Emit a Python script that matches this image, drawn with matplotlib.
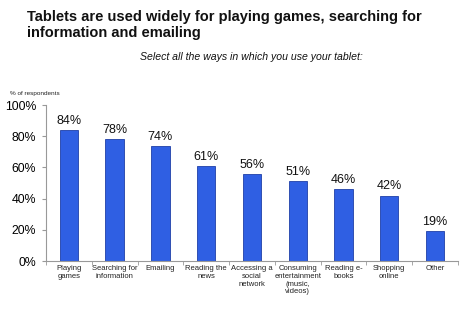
import numpy as np
import matplotlib.pyplot as plt
from matplotlib.ticker import FixedLocator

plt.rcParams['font.family'] = ['Liberation Sans', 'DejaVu Sans']

categories = ["Playing\ngames", "Searching for\ninformation", "Emailing",
              "Reading the\nnews", "Accessing a\nsocial\nnetwork",
              "Consuming\nentertainment\n(music,\nvideos)", "Reading e-\nbooks",
              "Shopping\nonline", "Other"]
values = [84, 78, 74, 61, 56, 51, 46, 42, 19]
yticks = [0, 20, 40, 60, 80, 100]

fig = plt.figure(figsize=(4.74, 3.10), dpi=100)
ax = fig.add_axes([0.097, 0.158, 0.869, 0.503])

x = np.arange(len(values))
ax.bar(x, values, width=0.4, color="#2F5FE3", edgecolor="#1F3FA8", linewidth=0.6)
for xi, v in zip(x, values):
    ax.text(xi, v + 2, f"{v}%", ha="center", va="bottom", fontsize=9, color="#111111")

ax.set_xlim(-0.5, len(values) - 0.5)
ax.set_ylim(0, 100)
ax.set_yticks(yticks)
ax.set_yticklabels([f"{t}%" for t in yticks], fontsize=8.8)
ax.set_xticks(x)
ax.set_xticklabels(categories, fontsize=5.5, color="#222222", linespacing=1.15)
ax.xaxis.set_minor_locator(FixedLocator(np.arange(-0.5, len(values), 1.0)))
ax.tick_params(axis="x", which="major", length=0, pad=3)
ax.tick_params(axis="x", which="minor", length=3, color="#999999")
ax.tick_params(axis="y", length=3, color="#999999", pad=4)

for s in ["top", "right"]:
    ax.spines[s].set_visible(False)
for s in ["left", "bottom"]:
    ax.spines[s].set_color("#999999")
    ax.spines[s].set_linewidth(0.8)

fig.text(0.057, 0.968, "Tablets are used widely for playing games, searching for\ninformation and emailing",
         ha="left", va="top", fontsize=10.5, fontweight="bold", color="#111111", linespacing=1.18)
fig.text(0.53, 0.815, "Select all the ways in which you use your tablet:",
         ha="center", va="center", fontsize=7.6, style="italic", color="#111111")
fig.text(0.021, 0.70, "% of respondents", ha="left", va="center", fontsize=4.6, color="#222222")

fig.savefig("out.png", dpi=100)
